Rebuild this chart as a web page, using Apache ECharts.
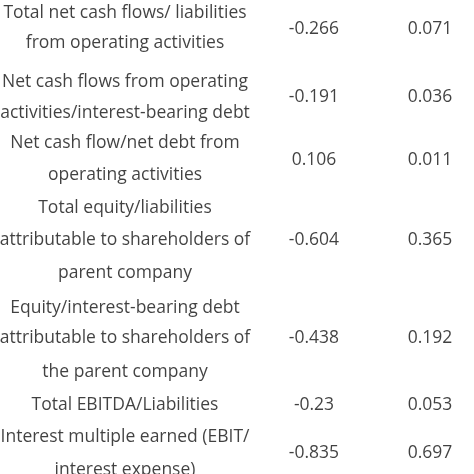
<!DOCTYPE html>
<html><head><meta charset="utf-8">
<script src="https://cdn.jsdelivr.net/npm/echarts@6/dist/echarts.min.js"></script>
<style>html,body{margin:0;padding:0;background:#fff}#c{width:474px;height:474px}</style>
</head><body><div id="c"></div>
<script>
// table rows: label lines, coefficient, second value
const labels = [
  ['Total net cash flows/ liabilities', 'from operating activities'],
  ['Net cash flows from operating', 'activities/interest-bearing debt'],
  ['Net cash flow/net debt from', 'operating activities'],
  ['Total equity/liabilities', 'attributable to shareholders of', 'parent company'],
  ['Equity/interest-bearing debt', 'attributable to shareholders of', 'the parent company'],
  ['Total EBITDA/Liabilities'],
  ['Interest multiple earned (EBIT/', 'interest expense)']
];
const col1 = ['-0.266', '-0.191', '0.106', '-0.604', '-0.438', '-0.23', '-0.835'];
const col2 = ['0.071', '0.036', '0.011', '0.365', '0.192', '0.053', '0.697'];

// layout (pixel-space y of each text line)
const lineY = [[13, 43], [82, 113], [143, 175], [208, 240, 273], [308, 338, 372], [405], [437, 470]];
const valueY = [29, 97, 160, 240, 338, 405, 453];

const pts = [];
labels.forEach((ls, i) => {
  ls.forEach((t, j) => pts.push({ value: [125, lineY[i][j]], label: { formatter: t } }));
  pts.push({ value: [314, valueY[i]], label: { formatter: col1[i] } });
  pts.push({ value: [430, valueY[i]], label: { formatter: col2[i] } });
});

const chart = echarts.init(document.getElementById('c'));
chart.setOption({
  animation: false,
  grid: { left: 0, right: 0, top: 0, bottom: 0 },
  xAxis: { type: 'value', min: 0, max: 474, show: false },
  yAxis: { type: 'value', min: 0, max: 474, inverse: true, show: false },
  series: [{
    type: 'scatter', symbolSize: 0, data: pts,
    label: { show: true, position: 'inside', color: '#111', fontSize: 17.5, fontFamily: 'Open Sans' }
  }]
});
</script></body></html>
